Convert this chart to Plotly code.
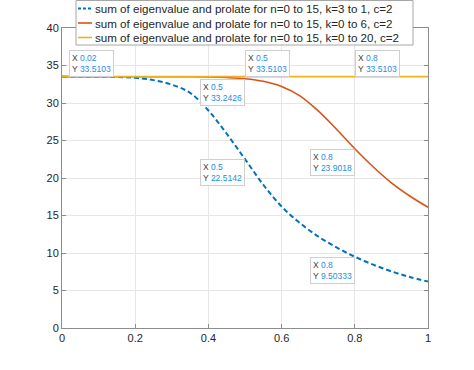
import plotly.graph_objects as go

# ---- data ----
x_vals = [0.0, 0.05, 0.1, 0.15, 0.2, 0.25, 0.3, 0.35, 0.4, 0.45, 0.5,
          0.55, 0.6, 0.65, 0.7, 0.75, 0.8, 0.85, 0.9, 0.95, 1.0]
k3to1 = [33.5103, 33.51, 33.50, 33.47, 33.36, 33.05, 32.45, 31.35, 29.00, 25.90, 22.5142,
         19.10, 16.20, 14.00, 12.20, 10.75, 9.50333, 8.45, 7.55, 6.80, 6.20]
k0to6 = [33.5103, 33.5103, 33.5103, 33.51, 33.51, 33.51, 33.51, 33.50, 33.47, 33.39, 33.2426,
         32.90, 32.20, 30.95, 28.95, 26.50, 23.9018, 21.50, 19.35, 17.60, 16.10]
k20_x = [0.0, 0.02, 0.5, 0.8, 1.0]
k0to20 = [33.5103, 33.5103, 33.5103, 33.5103, 33.5103]

legend_labels = [
    "sum of eigenvalue and prolate for n=0 to 15, k=3 to 1, c=2",
    "sum of eigenvalue and prolate for n=0 to 15, k=0 to 6, c=2",
    "sum of eigenvalue and prolate for n=0 to 15, k=0 to 20, c=2",
]
x_ticks = [0, 0.2, 0.4, 0.6, 0.8, 1]
x_tick_text = ["0", "0.2", "0.4", "0.6", "0.8", "1"]
y_ticks = [0, 5, 10, 15, 20, 25, 30, 35, 40]

BLUE = "#0072BD"
RED = "#D95319"
YEL = "#EDB120"

series = [
    (x_vals, k3to1, BLUE, "5px,3px", 2.0),
    (x_vals, k0to6, RED, "solid", 1.6),
    (k20_x, k0to20, YEL, "solid", 1.6),
]

# datatips: (series index, point index, placement)
datatips = [
    (2, 1, "ur"), (2, 2, "ur"), (2, 3, "ur"),
    (1, 10, "ll"), (0, 10, "ll"), (1, 16, "ll"), (0, 16, "ll"),
]

# ---- layout geometry (pixels) ----
W, H = 474, 370
L, R, T, B = 62, 46, 28, 42
PW, PH = W - L - R, H - T - B


def px(x):
    return (x - L) / PW


def py(y):
    return (H - B - y) / PH


fig = go.Figure()
for xs, ys, col, dash, w in series:
    fig.add_trace(go.Scatter(
        x=xs, y=ys, mode="lines",
        line=dict(color=col, width=w, dash=dash, shape="spline", smoothing=1.0),
        showlegend=False, hoverinfo="skip"))

annotations = []
for si, pi, place in datatips:
    xs, ys = series[si][0], series[si][1]
    xv, yv = xs[pi], ys[pi]
    txt = ("X <span style='color:#1a8fe3'>%s</span><br>Y <span style='color:#1a8fe3'>%s</span>"
           % (format(xv, ".6g"), format(yv, ".6g")))
    if place == "ur":
        xa, ya = "left", "bottom"
    else:
        xa, ya = "right", "top"
    annotations.append(dict(
        x=xv, y=yv, xref="x", yref="y", text=txt, showarrow=False,
        xanchor=xa, yanchor=ya, align="left",
        font=dict(family="Liberation Sans, Arial", size=8.5, color="#404040"),
        bgcolor="rgba(255,255,255,0.92)", bordercolor="#cfcfcf", borderwidth=1,
        borderpad=2))

# custom legend
shapes = []
shapes.append(dict(type="rect", xref="paper", yref="paper",
                   x0=px(76), x1=px(413), y0=py(45), y1=py(0.5),
                   line=dict(color="#a6a6a6", width=1), fillcolor="white", layer="above"))
row_y = [8.5, 23, 37.5]
for (xs, ys, col, dash, w), lab, ry in zip(series, legend_labels, row_y):
    shapes.append(dict(type="line", xref="paper", yref="paper",
                       x0=px(78), x1=px(92), y0=py(ry), y1=py(ry),
                       line=dict(color=col, width=w, dash="3px,2px" if dash != "solid" else "solid"),
                       layer="above"))
    annotations.append(dict(x=px(93), y=py(ry), xref="paper", yref="paper",
                            text=lab, showarrow=False, xanchor="left", yanchor="middle",
                            font=dict(family="Liberation Sans, Arial", size=11.6, color="#262626")))

axis_common = dict(showline=True, linecolor="#8c8c8c", linewidth=1, mirror="ticks",
                   ticks="inside", ticklen=4, tickcolor="#8c8c8c",
                   showgrid=True, gridcolor="#e6e6e6", gridwidth=1, zeroline=False,
                   tickfont=dict(family="Liberation Sans, Arial", size=11, color="#262626"))

fig.update_layout(
    width=W, height=H,
    margin=dict(l=L, r=R, t=T, b=B),
    paper_bgcolor="white", plot_bgcolor="white",
    xaxis=dict(range=[0, 1], tickvals=x_ticks, ticktext=x_tick_text, **axis_common),
    yaxis=dict(range=[0, 40], tickvals=y_ticks, **axis_common),
    annotations=annotations, shapes=shapes,
    showlegend=False,
)

fig.write_html("out.html", config={"displayModeBar": False},
               post_script="document.body.style.margin='0';")
